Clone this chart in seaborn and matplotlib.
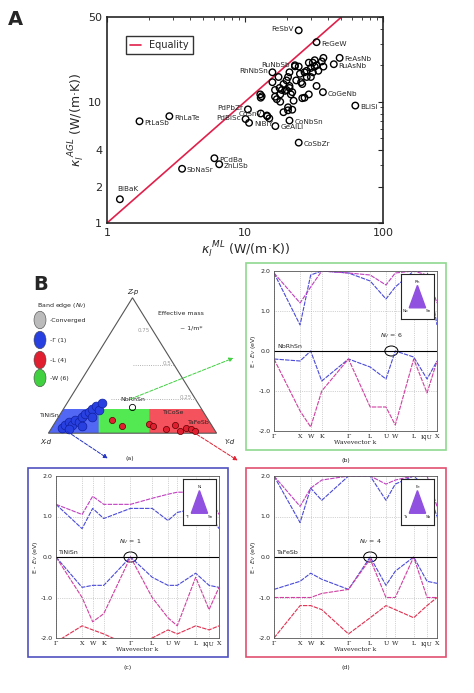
import numpy as np
import pandas as pd
import matplotlib
matplotlib.use("Agg")
import matplotlib.pyplot as plt
import seaborn as sns
from matplotlib.patches import Rectangle, Polygon, Ellipse, FancyArrowPatch
from matplotlib.ticker import FixedLocator, NullFormatter

# ---------------- data: panel A ----------------
label_names = ["FeSbV", "FeGeW", "FeAsNb", "RuAsNb", "RuNbSb", "RhNbSn", "CoGeNb", "BLiSi",
               "PdPbZr", "CoSnV", "PdBiSc", "NiBiY", "GeAlLi", "CoNbSn", "CoSbZr", "RhLaTe",
               "PtLaSb", "PCdBa", "ZnLiSb", "SbNaSr", "BiBaK"]
label_ml = [24.5, 33, 48.5, 44, 23, 15.8, 36.7, 63, 10.5, 14.4, 10.1, 10.7, 16.6, 21, 24.5, 2.83,
            1.72, 6.0, 6.5, 3.5, 1.24]
label_agl = [38.8, 31, 23, 20.4, 19.6, 17.5, 12, 9.3, 8.65, 7.7, 7.2, 6.7, 6.3, 7.0, 4.6, 7.6,
             6.9, 3.42, 3.05, 2.8, 1.57]
cluster_ml = [12.9, 13, 13.2, 15.8, 16.5, 17.5, 17, 18, 18, 17.8, 18.5, 19, 19.5, 20, 20, 20.5, 21,
              21, 21.5, 22, 20.5, 20.5, 22, 22.5, 23.5, 23, 24.5, 25, 25.5, 26, 26, 27, 27, 28, 28,
              29, 29, 30, 30, 31, 31, 32, 32, 33, 33, 34, 36, 37, 37, 21, 19, 13, 14.5, 15, 16.5]
cluster_agl = [11.5, 10.8, 11.1, 14.5, 11, 16, 10.5, 10, 11.5, 13, 12.5, 14, 12.3, 15, 12.5, 16,
               17.5, 13, 11.5, 12, 8.5, 9, 8.6, 10.2, 15, 20, 19.5, 17, 14.5, 14, 10.7, 10.8, 17.5,
               16, 18, 21, 11.5, 16, 19, 17.5, 21, 22, 19.5, 20, 13.5, 18, 21.5, 19.5, 23, 13.5,
               8.2, 8, 7.6, 7.3, 12.5]
label_side = ["l", "r", "r", "r", "l", "l", "r", "r", "l", "l", "l", "r", "r", "r", "r", "r",
              "r", "r", "r", "r", "a"]

# ---------------- data: panel B ----------------
k_labels = ["Γ", "X", "W", "K", "Γ", "L", "U", "W", "L", "K|U", "X"]
k_pos = [0, 0.16, 0.225, 0.293, 0.457, 0.59, 0.687, 0.744, 0.857, 0.939, 1.0]
nbrhsn_bands = {
    "vb1": [-0.2, -0.25, 0.0, -0.75, -0.2, -0.4, -0.7, 0.0, -0.15, -0.7, -0.25],
    "vb2": [-0.2, -1.5, -1.9, -1.0, -0.2, -1.4, -1.4, -1.85, -0.2, -1.05, -0.25],
    "cb1": [1.95, 0.65, 1.9, 2.0, 1.95, 1.75, 1.3, 1.6, 2.0, 2.0, 0.65],
    "cb2": [1.95, 1.2, 1.6, 2.0, 1.95, 1.9, 1.65, 1.95, 2.0, 1.9, 1.2],
}
tinisn_bands = {
    "vb1": [0.0, -0.75, -0.7, -0.7, 0.0, -0.5, -0.7, -0.7, -0.4, -0.7, -0.75],
    "vb2": [0.0, -1.0, -1.6, -1.4, 0.0, -1.0, -1.5, -1.7, -0.5, -1.3, -0.75],
    "vb3": [-2.1, -1.7, -1.8, -1.9, -2.2, -2.0, -1.8, -1.9, -1.7, -1.8, -1.7],
    "cb1": [1.3, 0.7, 1.2, 0.95, 1.2, 1.2, 0.9, 1.1, 1.2, 1.1, 0.7],
    "cb2": [1.3, 1.05, 1.5, 1.3, 1.3, 1.45, 1.55, 1.6, 1.6, 1.5, 1.05],
}
tafesb_bands = {
    "vb1": [-0.8, -0.6, -0.4, -0.55, -0.8, 0.0, -0.7, -0.35, 0.0, -0.6, -0.65],
    "vb2": [-1.0, -1.0, -1.0, -0.9, -0.8, -0.05, -1.0, -1.0, 0.0, -1.0, -1.0],
    "vb3": [-2.0, -1.2, -1.2, -1.3, -1.9, -1.5, -1.2, -1.3, -1.5, -1.2, -1.0],
    "cb1": [2.0, 0.85, 1.7, 1.4, 2.0, 2.0, 1.4, 1.8, 2.0, 1.7, 1.0],
    "cb2": [2.0, 1.25, 1.7, 1.9, 2.0, 2.0, 1.8, 1.9, 2.0, 2.0, 1.25],
}
band_colors = {"vb1": "#4a4ad8", "vb2": "#d040a0", "vb3": "#e03050", "cb1": "#4a4ad8", "cb2": "#c040c0"}

tri_blue_x = [0.08, 0.1, 0.12, 0.14, 0.16, 0.18, 0.2, 0.22, 0.24, 0.26, 0.28, 0.3, 0.32, 0.12, 0.2, 0.26]
tri_blue_y = [0.04, 0.06, 0.08, 0.06, 0.1, 0.08, 0.12, 0.14, 0.16, 0.18, 0.2, 0.17, 0.22, 0.03, 0.05, 0.12]
tri_red_x = [0.38, 0.44, 0.6, 0.62, 0.7, 0.75, 0.78, 0.82, 0.85, 0.87]
tri_red_y = [0.1, 0.05, 0.07, 0.05, 0.03, 0.06, 0.02, 0.04, 0.03, 0.02]

sns.set_style("white")
plt.rcParams["font.family"] = ["DejaVu Sans"]
fig = plt.figure(figsize=(4.74, 6.93), dpi=100)
W, H = 474, 693

def fax(x0, y0, x1, y1):
    return fig.add_axes([x0 / W, 1 - y1 / H, (x1 - x0) / W, (y1 - y0) / H])

# ---------------- Panel A ----------------
ax = fax(107, 17, 383, 223)
ax.set_xscale("log"); ax.set_yscale("log")
ax.set_xlim(1, 100); ax.set_ylim(1, 50)
ax.plot([1, 50], [1, 50], color="#e0204a", lw=1.2, label="Equality")
df = pd.DataFrame({"ml": label_ml + cluster_ml, "agl": label_agl + cluster_agl})
sns.scatterplot(data=df, x="ml", y="agl", ax=ax, s=22, facecolor="none", edgecolor="black",
                linewidth=1.0, zorder=3)
for n, xx, yy, sd in zip(label_names, label_ml, label_agl, label_side):
    if sd == "r":
        ax.annotate(n, (xx, yy), xytext=(3.5, -1), textcoords="offset points", fontsize=5.2, va="center")
    elif sd == "l":
        ax.annotate(n, (xx, yy), xytext=(-3.5, 1), textcoords="offset points", fontsize=5.2, va="center", ha="right")
    else:
        ax.annotate(n, (xx, yy), xytext=(-2, 6), textcoords="offset points", fontsize=5.2)
ax.yaxis.set_major_locator(FixedLocator([1, 2, 4, 10, 50]))
ax.yaxis.set_major_formatter(matplotlib.ticker.FixedFormatter(["1", "2", "4", "10", "50"]))
ax.yaxis.set_minor_formatter(NullFormatter())
ax.xaxis.set_major_formatter(matplotlib.ticker.FixedFormatter(["1", "10", "100"]))
ax.xaxis.set_major_locator(FixedLocator([1, 10, 100]))
ax.tick_params(which="both", direction="in", top=True, right=True, labelsize=8)
for s in ax.spines.values():
    s.set_linewidth(1.2)
ax.set_xlabel(r"$\kappa_l^{\ ML}$ (W/(m·K))", fontsize=9, labelpad=1)
ax.set_ylabel(r"$\kappa_l^{\ AGL}$ (W/(m·K))", fontsize=9, labelpad=1)
ax.legend(loc="upper left", fontsize=7, frameon=True, fancybox=False, edgecolor="black",
          bbox_to_anchor=(0.05, 0.93), handlelength=1.2)
fig.text(8 / W, 1 - 25 / H, "A", fontsize=14, fontweight="bold")

# ---------------- Panel B: triangle ----------------
fig.text(33 / W, 1 - 290 / H, "B", fontsize=14, fontweight="bold")
tx = fax(40, 295, 225, 440)
tx.set_xlim(-0.05, 1.05); tx.set_ylim(-0.05, 1.02); tx.axis("off")
tri = Polygon([[0, 0], [1, 0], [0.5, 1]], closed=True, fill=False, ec="#555555", lw=0.8)
grad = np.zeros((20, 100, 4))
for i in range(100):
    f = i / 99
    if f < 0.3:
        c = (0.2, 0.3, 0.95)
    elif f < 0.6:
        c = (0.2, 0.9, 0.2)
    else:
        c = (0.95, 0.2, 0.25)
    grad[:, i, :3] = c
    grad[:, i, 3] = 0.85
im = tx.imshow(grad, extent=[0, 1, 0, 0.17], aspect="auto", zorder=1)
im.set_clip_path(Polygon([[0, 0], [1, 0], [0.5, 1]], closed=True, transform=tx.transData))
tx.add_patch(tri)
tx.scatter(tri_blue_x, tri_blue_y, s=40, c="#2840e0", ec="#1020a0", lw=0.5, zorder=3)
tx.scatter(tri_red_x, tri_red_y, s=20, c="#e02030", ec="#600000", lw=0.5, zorder=3)
tx.scatter([0.5], [0.19], s=20, facecolor="none", ec="black", lw=0.6, zorder=3)
for yy, lb in zip([0.75, 0.5, 0.25], ["0.75", "0.5", "0.25"]):
    tx.plot([0.5 - (1 - yy) / 2 + 0.25, 0.5 + (1 - yy) / 2], [yy, yy], ls=":", color="#999999", lw=0.6)
    tx.text(0.5 + (1 - yy) / 2 - 0.02, yy, lb, fontsize=4, color="#999999", ha="right")
tx.text(0.5, 1.03, "Z-p", fontsize=5, ha="center", style="italic")
tx.text(-0.05, -0.08, "X-d", fontsize=5, style="italic")
tx.text(1.05, -0.08, "Y-d", fontsize=5, style="italic")
tx.text(0.5, 0.24, "NbRhSn", fontsize=4.5, ha="center")
tx.text(-0.05, 0.12, "TiNiSn", fontsize=4.5)
tx.text(0.68, 0.14, "TiCoSe", fontsize=4.5)
tx.text(0.83, 0.07, "TaFeSb", fontsize=4.5)
fig.text(130 / W, 1 - 460 / H, "(a)", fontsize=4.5, ha="center")
fig.text(37 / W, 1 - 307 / H, "Band edge ($N_V$)", fontsize=4.5)
for yy, col, lb in zip([320, 340, 360, 378], ["#bbbbbb", "#2840e0", "#e02030", "#40d040"],
                       ["-Converged", "-Γ (1)", "-L (4)", "-W (6)"]):
    fig.patches.append(plt.Circle((40 / W, 1 - yy / H), 6 / W, transform=fig.transFigure,
                                  color=col, ec="#444444", lw=0.4))
    fig.text(50 / W, 1 - (yy + 2) / H, lb, fontsize=4.5)
fig.text(158 / W, 1 - 315 / H, "Effective mass", fontsize=4.5)
fig.text(180 / W, 1 - 330 / H, "~ 1/m*", fontsize=4.5)

# ---------------- band panels ----------------
def band_panel(x0, y0, x1, y1, bands, name, nv, ell_x, frame, inset_lbl, sub):
    fig.patches.append(Rectangle((x0 / W, 1 - y1 / H), (x1 - x0) / W, (y1 - y0) / H,
                                 transform=fig.transFigure, fill=False, ec=frame, lw=1.2))
    b = fax(x0 + 28, y0 + 8, x1 - 9, y1 - 19)
    b.set_xlim(0, 1); b.set_ylim(-2, 2)
    for kp in k_pos:
        b.axvline(kp, color="#aaaaaa", ls=":", lw=0.5)
    for yy in (-1, 1):
        b.axhline(yy, color="#aaaaaa", ls=":", lw=0.5)
    for key, vals in bands.items():
        d = pd.DataFrame({"k": k_pos, "e": vals})
        sns.lineplot(data=d, x="k", y="e", ax=b, color=band_colors[key], lw=0.8,
                     sort=False, estimator=None)
        b.lines[-1].set_linestyle((0, (4, 1)))
    b.axhline(0, color="black", lw=0.8)
    b.add_patch(Ellipse((ell_x, 0.0), 0.08, 0.25, fill=False, ec="black", lw=0.7))
    b.text(ell_x, 0.35, f"$N_V$ = {nv}", fontsize=4.5, ha="center")
    b.text(0.02, 0.08, name, fontsize=4.5)
    b.set_xticks(k_pos); b.set_xticklabels(k_labels, fontsize=4.5, family="serif")
    b.set_yticks([-2, -1, 0, 1, 2]); b.set_yticklabels(["-2.0", "-1.0", "0.0", "1.0", "2.0"], fontsize=4.5)
    b.tick_params(length=1.5, pad=1)
    b.set_xlabel("Wavevector k", fontsize=4.5, labelpad=0, family="serif")
    b.set_ylabel("E - $E_V$ (eV)", fontsize=4.5, labelpad=0)
    for s in b.spines.values():
        s.set_linewidth(0.6); s.set_color("#555555")
    ins = b.inset_axes([0.78, 0.7, 0.2, 0.28])
    ins.set_xticks([]); ins.set_yticks([])
    ins.set_xlim(0, 1); ins.set_ylim(0, 1)
    ins.add_patch(Polygon([[0.25, 0.25], [0.75, 0.25], [0.5, 0.75]], closed=True, color="#9050e0"))
    ins.text(0.5, 0.8, inset_lbl[0], fontsize=3, ha="center")
    ins.text(0.05, 0.15, inset_lbl[1], fontsize=3)
    ins.text(0.75, 0.15, inset_lbl[2], fontsize=3)
    fig.text((x0 + x1) / 2 / W, 1 - (y1 + 12) / H, sub, fontsize=4.5, ha="center")

band_panel(246, 263, 446, 450, nbrhsn_bands, "NbRhSn", 6, 0.72, "#8fd88f", ["Rh", "Nb", "Sn"], "(b)")
band_panel(28, 468, 228, 657, tinisn_bands, "TiNiSn", 1, 0.457, "#5050c0", ["Ni", "Ti", "Sn"], "(c)")
band_panel(246, 468, 446, 657, tafesb_bands, "TaFeSb", 4, 0.59, "#e05070", ["Fe", "Ta", "Sb"], "(d)")

for (p0, p1, col) in [((128, 400), (236, 357), "#40d040"), ((65, 430), (110, 460), "#2030c0"),
                      ((190, 430), (240, 462), "#e02030")]:
    fig.patches.append(FancyArrowPatch((p0[0] / W, 1 - p0[1] / H), (p1[0] / W, 1 - p1[1] / H),
                                       transform=fig.transFigure, arrowstyle="-|>", mutation_scale=6,
                                       color=col, lw=0.7, ls="--"))

fig.savefig("out.png", dpi=100)
